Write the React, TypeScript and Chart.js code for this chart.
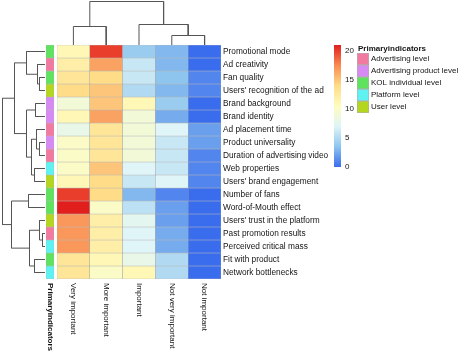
import React, { useEffect, useRef } from "react";
import { Chart, registerables } from "chart.js";

Chart.register(...registerables);

const FONT = "'Liberation Sans', Arial, Helvetica, sans-serif";
const TEXT = "#141414";
const LINE = "#555555";
const CELL_BORDER = "#a8a8a8";

// ---------- data ----------
const columns = ["Very important", "More important", "Important", "Not very important", "Not important"];

const rowLabels = [
  "Promotional mode",
  "Ad creativity",
  "Fan quality",
  "Users' recognition of the ad",
  "Brand background",
  "Brand identity",
  "Ad placement time",
  "Product universality",
  "Duration of advertising video",
  "Web properties",
  "Users' brand engagement",
  "Number of fans",
  "Word-of-Mouth effect",
  "Users' trust in the platform",
  "Past promotion results",
  "Perceived critical mass",
  "Fit with product",
  "Network bottlenecks",
];

const rowGroups = [
  "KOL individual level",
  "Advertising level",
  "KOL individual level",
  "User level",
  "Advertising product level",
  "Advertising product level",
  "Advertising level",
  "Advertising product level",
  "Advertising level",
  "Platform level",
  "User level",
  "KOL individual level",
  "KOL individual level",
  "User level",
  "Advertising level",
  "Platform level",
  "KOL individual level",
  "Platform level",
];

const groupNames = ["Advertising level", "Advertising product level", "KOL individual level", "Platform level", "User level"];
const groupColors = ["#f27aa0", "#d78af3", "#5fe35f", "#5ff2f2", "#b5d61f"];
const legendTitle = "Primaryindicators";

const veryImportant = [11, 12, 13, 14, 9, 11, 8, 10, 10, 10, 11, 20, 21, 17, 17, 17, 13, 13];
const moreImportant = [20, 16.5, 14, 15, 15, 16.5, 13, 13, 13, 15, 14, 14, 10, 12, 12, 12, 11, 10];
const important = [4, 6, 6, 5, 11, 9, 9, 9, 9, 7, 6, 3, 5.5, 7.5, 7, 7, 8, 11];
const notVeryImportant = [3, 3, 3.5, 3, 4, 2.5, 7, 6, 6, 6, 7, 1, 2, 2, 2.5, 2.5, 5, 5];
const notImportant = [0, 0, 1, 1, 0, 0, 2, 2, 1, 1, 1, 0, 0, 0, 0, 0, 0, 0];

const seriesByColumn = [veryImportant, moreImportant, important, notVeryImportant, notImportant];

const colorbarTicks = [0, 5, 10, 15, 20];

// dendrograms (hclust-style merges: negative = leaf, positive = earlier merge)
const colMerge = [[-4, -5], [-1, -2], [-3, 1], [2, 3]];
const colHeight = [9.5, 18.5, 20.5, 43.5];

const rowMerge = [
  [-3, -4],
  [-2, 1],
  [-1, 2],
  [-5, -6],
  [-8, -9],
  [-7, 5],
  [-10, -11],
  [6, 7],
  [4, 8],
  [3, 9],
  [-12, -13],
  [-15, -16],
  [-14, 12],
  [-17, -18],
  [13, 14],
  [11, 15],
  [10, 16],
];
const rowHeight = [5.5, 7.5, 18.5, 9.5, 5.5, 8.5, 10.5, 13.5, 18.5, 30.5, 16.5, 2.5, 5.5, 10.5, 15.5, 33.5, 42.5];

// ---------- helpers ----------
const allValues = seriesByColumn.flat();
const valueMin = Math.min(...allValues);
const valueMax = Math.max(...allValues);

const rampColors = ["#3a6cee", "#8ec5ee", "#dff5f8", "#fffcbe", "#fedc88", "#f98b52", "#e11f1c"];

function hexToRgb(h: string) {
  const n = parseInt(h.slice(1), 16);
  return [(n >> 16) & 255, (n >> 8) & 255, n & 255];
}
const rampRgb = rampColors.map(hexToRgb);

function valueColor(v: number) {
  let t = (v - valueMin) / (valueMax - valueMin);
  t = Math.max(0, Math.min(1, t));
  const seg = t * (rampRgb.length - 1);
  const i = Math.min(rampRgb.length - 2, Math.floor(seg));
  const f = seg - i;
  const a = rampRgb[i];
  const b = rampRgb[i + 1];
  const c = a.map((x, k) => Math.round(x + (b[k] - x) * f));
  return `rgb(${c[0]},${c[1]},${c[2]})`;
}

function dendroLinks(merge: number[][], heights: number[]) {
  const pos: number[] = [];
  const node = (id: number) => (id < 0 ? { p: -id - 1, h: 0 } : { p: pos[id - 1], h: heights[id - 1] });
  const links: { p: number; h: number }[][] = [];
  merge.forEach(([a, b], j) => {
    const A = node(a);
    const B = node(b);
    pos[j] = (A.p + B.p) / 2;
    links.push([
      { p: A.p, h: A.h },
      { p: A.p, h: heights[j] },
      { p: B.p, h: heights[j] },
      { p: B.p, h: B.h },
    ]);
  });
  return links;
}

const common = {
  responsive: false,
  animation: false as const,
  events: [] as any[],
  plugins: { legend: { display: false }, tooltip: { enabled: false } },
};

// ---------- plugins ----------
const columnLabelPlugin = {
  id: "columnLabels",
  afterDraw(chart: any) {
    const { ctx, chartArea, scales } = chart;
    ctx.save();
    ctx.font = `8px ${FONT}`;
    ctx.fillStyle = TEXT;
    ctx.textAlign = "left";
    ctx.textBaseline = "middle";
    columns.forEach((c, i) => {
      const x = scales.x.getPixelForValue(i);
      ctx.save();
      ctx.translate(x, chartArea.bottom + 4);
      ctx.rotate(Math.PI / 2);
      ctx.fillText(c, 0, 0);
      ctx.restore();
    });
    ctx.restore();
  },
};

const annotationLabelPlugin = {
  id: "annotationLabel",
  afterDraw(chart: any) {
    const { ctx, chartArea, scales } = chart;
    ctx.save();
    ctx.font = `bold 8px ${FONT}`;
    ctx.fillStyle = TEXT;
    ctx.textAlign = "left";
    ctx.textBaseline = "middle";
    const x = scales.x.getPixelForValue(0);
    ctx.translate(x, chartArea.bottom + 4);
    ctx.rotate(Math.PI / 2);
    ctx.fillText(legendTitle, 0, 0);
    ctx.restore();
  },
};

const groupLegendPlugin = {
  id: "groupLegend",
  afterDraw(chart: any) {
    const { ctx, chartArea } = chart;
    const x0 = chartArea.right + 16;
    const y0 = chartArea.top + 8;
    const box = 12;
    ctx.save();
    ctx.fillStyle = TEXT;
    ctx.font = `bold 8px ${FONT}`;
    ctx.textAlign = "left";
    ctx.textBaseline = "middle";
    ctx.fillText(legendTitle, x0 + 1, chartArea.top + 3.5);
    ctx.font = `8px ${FONT}`;
    groupNames.forEach((g, i) => {
      const y = y0 + i * box;
      ctx.fillStyle = groupColors[i];
      ctx.fillRect(x0, y, box, box);
      ctx.strokeStyle = "#b0b0b0";
      ctx.lineWidth = 0.6;
      ctx.strokeRect(x0 + 0.3, y + 0.3, box - 0.6, box - 0.6);
      ctx.fillStyle = TEXT;
      ctx.fillText(g, x0 + box + 2, y + box / 2);
    });
    ctx.restore();
  },
};

// ---------- configs ----------
const heatmapConfig = (): any => ({
  type: "bar",
  data: {
    labels: columns,
    datasets: rowLabels.map((label, r) => ({
      label,
      data: columns.map(() => 1),
      backgroundColor: seriesByColumn.map((s) => valueColor(s[r])),
      borderColor: CELL_BORDER,
      borderWidth: 0.5,
      borderSkipped: false,
      barPercentage: 1,
      categoryPercentage: 1,
      stack: "cells",
    })),
  },
  options: {
    ...common,
    layout: { padding: { left: 57, top: 45, right: 0, bottom: 76 } },
    scales: {
      x: { type: "category", display: false, stacked: true },
      y: { type: "linear", display: false, stacked: true, min: 0, max: rowLabels.length, reverse: true },
      rows: {
        type: "category",
        position: "right",
        labels: rowLabels,
        offset: true,
        grid: { display: false, drawTicks: false },
        border: { display: false },
        ticks: { font: { size: 8.3, family: FONT }, color: TEXT, padding: 2, autoSkip: false },
        afterFit: (s: any) => {
          s.width = 119;
        },
      },
    },
  },
  plugins: [columnLabelPlugin],
});

const annotationConfig = (): any => ({
  type: "bar",
  data: {
    labels: [legendTitle],
    datasets: rowLabels.map((label, r) => ({
      label,
      data: [1],
      backgroundColor: groupColors[groupNames.indexOf(rowGroups[r])],
      borderColor: CELL_BORDER,
      borderWidth: 0.5,
      borderSkipped: false,
      barPercentage: 1,
      categoryPercentage: 1,
      stack: "ann",
    })),
  },
  options: {
    ...common,
    layout: { padding: { left: 2, top: 0, right: 2, bottom: 76 } },
    scales: {
      x: { type: "category", display: false, stacked: true },
      y: { type: "linear", display: false, stacked: true, min: 0, max: rowLabels.length, reverse: true },
    },
  },
  plugins: [annotationLabelPlugin],
});

const colDendroConfig = (): any => ({
  type: "scatter",
  data: {
    datasets: dendroLinks(colMerge, colHeight).map((link) => ({
      data: link.map((pt) => ({ x: pt.p, y: pt.h })),
      showLine: true,
      borderColor: LINE,
      borderWidth: 1,
      pointRadius: 0,
      clip: false,
    })),
  },
  options: {
    ...common,
    layout: { padding: 0 },
    scales: {
      x: { type: "linear", display: false, min: -0.5, max: columns.length - 0.5 },
      y: { type: "linear", display: false, min: 0, max: 45 },
    },
  },
});

const rowDendroConfig = (): any => ({
  type: "scatter",
  data: {
    datasets: dendroLinks(rowMerge, rowHeight).map((link) => ({
      data: link.map((pt) => ({ x: pt.h, y: pt.p })),
      showLine: true,
      borderColor: LINE,
      borderWidth: 1,
      pointRadius: 0,
      clip: false,
    })),
  },
  options: {
    ...common,
    layout: { padding: 0 },
    scales: {
      x: { type: "linear", display: false, min: 0, max: 45, reverse: true },
      y: { type: "linear", display: false, min: -0.5, max: rowLabels.length - 0.5, reverse: true },
    },
  },
});

const colorbarConfig = (): any => ({
  type: "bar",
  data: {
    labels: ["value"],
    datasets: [
      {
        data: [[valueMin, valueMax]],
        backgroundColor: (c: any) => {
          const { chart } = c;
          const { ctx, chartArea, scales } = chart;
          if (!chartArea) return "#ffffff";
          const g = ctx.createLinearGradient(0, scales.y.getPixelForValue(valueMin), 0, scales.y.getPixelForValue(valueMax));
          rampColors.forEach((col, i) => g.addColorStop(i / (rampColors.length - 1), col));
          return g;
        },
        borderWidth: 0,
        barPercentage: 1,
        categoryPercentage: 1,
      },
    ],
  },
  options: {
    ...common,
    layout: { padding: { left: 14, top: 15, right: 118, bottom: 13 } },
    scales: {
      x: { type: "category", display: false },
      y: {
        type: "linear",
        position: "right",
        min: valueMin,
        max: valueMax,
        grid: { display: false, drawTicks: false },
        border: { display: false },
        afterBuildTicks: (s: any) => {
          s.ticks = colorbarTicks.map((v) => ({ value: v }));
        },
        ticks: { font: { size: 8, family: FONT }, color: TEXT, padding: 4 },
        afterFit: (s: any) => {
          s.width = 15;
        },
      },
    },
  },
  plugins: [groupLegendPlugin],
});

// ---------- components ----------
function ChartCanvas(props: { left: number; top: number; width: number; height: number; config: () => any }) {
  const ref = useRef<HTMLCanvasElement>(null);
  useEffect(() => {
    const chart = new Chart(ref.current as HTMLCanvasElement, props.config());
    return () => chart.destroy();
  }, []);
  const { left, top, width, height } = props;
  return (
    <canvas
      ref={ref}
      width={width}
      height={height}
      style={{ position: "absolute", left, top, width, height, display: "block" }}
    />
  );
}

export default function App() {
  return (
    <div style={{ position: "absolute", left: 0, top: 0, width: 474, height: 355, background: "#ffffff", overflow: "hidden" }}>
      <ChartCanvas left={0} top={0} width={340} height={355} config={heatmapConfig} />
      <ChartCanvas left={44} top={45} width={12} height={310} config={annotationConfig} />
      <ChartCanvas left={57} top={0} width={164} height={45} config={colDendroConfig} />
      <ChartCanvas left={0} top={45} width={45} height={234} config={rowDendroConfig} />
      <ChartCanvas left={320} top={30} width={154} height={150} config={colorbarConfig} />
    </div>
  );
}
